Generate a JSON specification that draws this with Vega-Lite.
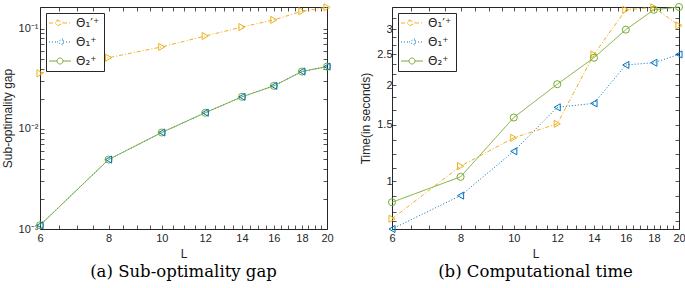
{
  "$schema": "https://vega.github.io/schema/vega-lite/v6.json",
  "padding": {"left": 0, "top": 0, "right": 4, "bottom": 2},
  "datasets": {
    "gap": [
      {"L": 6, "method": "Θ₁′⁺", "value": 0.0359},
      {"L": 8, "method": "Θ₁′⁺", "value": 0.0514},
      {"L": 10, "method": "Θ₁′⁺", "value": 0.0659},
      {"L": 12, "method": "Θ₁′⁺", "value": 0.0847},
      {"L": 14, "method": "Θ₁′⁺", "value": 0.104},
      {"L": 16, "method": "Θ₁′⁺", "value": 0.1227},
      {"L": 18, "method": "Θ₁′⁺", "value": 0.1496},
      {"L": 20, "method": "Θ₁′⁺", "value": 0.1637},
      {"L": 6, "method": "Θ₁⁺", "value": 0.00109},
      {"L": 8, "method": "Θ₁⁺", "value": 0.00494},
      {"L": 10, "method": "Θ₁⁺", "value": 0.0092},
      {"L": 12, "method": "Θ₁⁺", "value": 0.0145},
      {"L": 14, "method": "Θ₁⁺", "value": 0.0209},
      {"L": 16, "method": "Θ₁⁺", "value": 0.0269},
      {"L": 18, "method": "Θ₁⁺", "value": 0.0374},
      {"L": 20, "method": "Θ₁⁺", "value": 0.0419},
      {"L": 6, "method": "Θ₂⁺", "value": 0.00109},
      {"L": 8, "method": "Θ₂⁺", "value": 0.00494},
      {"L": 10, "method": "Θ₂⁺", "value": 0.0092},
      {"L": 12, "method": "Θ₂⁺", "value": 0.0145},
      {"L": 14, "method": "Θ₂⁺", "value": 0.0209},
      {"L": 16, "method": "Θ₂⁺", "value": 0.0269},
      {"L": 18, "method": "Θ₂⁺", "value": 0.0374},
      {"L": 20, "method": "Θ₂⁺", "value": 0.0419}
    ],
    "time": [
      {"L": 6, "method": "Θ₁′⁺", "value": 0.761},
      {"L": 8, "method": "Θ₁′⁺", "value": 1.114},
      {"L": 10, "method": "Θ₁′⁺", "value": 1.367},
      {"L": 12, "method": "Θ₁′⁺", "value": 1.512},
      {"L": 14, "method": "Θ₁′⁺", "value": 2.498},
      {"L": 16, "method": "Θ₁′⁺", "value": 3.45},
      {"L": 18, "method": "Θ₁′⁺", "value": 3.51},
      {"L": 20, "method": "Θ₁′⁺", "value": 3.08},
      {"L": 6, "method": "Θ₁⁺", "value": 0.707},
      {"L": 8, "method": "Θ₁⁺", "value": 0.9},
      {"L": 10, "method": "Θ₁⁺", "value": 1.24},
      {"L": 12, "method": "Θ₁⁺", "value": 1.704},
      {"L": 14, "method": "Θ₁⁺", "value": 1.754},
      {"L": 16, "method": "Θ₁⁺", "value": 2.315},
      {"L": 18, "method": "Θ₁⁺", "value": 2.353},
      {"L": 20, "method": "Θ₁⁺", "value": 2.498},
      {"L": 6, "method": "Θ₂⁺", "value": 0.858},
      {"L": 8, "method": "Θ₂⁺", "value": 1.031},
      {"L": 10, "method": "Θ₂⁺", "value": 1.583},
      {"L": 12, "method": "Θ₂⁺", "value": 2.014},
      {"L": 14, "method": "Θ₂⁺", "value": 2.439},
      {"L": 16, "method": "Θ₂⁺", "value": 2.988},
      {"L": 18, "method": "Θ₂⁺", "value": 3.45},
      {"L": 20, "method": "Θ₂⁺", "value": 3.52}
    ]
  },
  "spacing": 25,
  "hconcat": [
    {
      "width": 287,
      "height": 222,
      "title": {"text": "(a) Sub-optimality gap"},
      "data": {"name": "gap"},
      "layer": [
        {
          "mark": {"type": "line", "strokeWidth": 1},
          "encoding": {
            "x": {"field": "L", "type": "quantitative",
              "scale": {"type": "log", "domain": [6, 20], "nice": false},
              "axis": {"orient": "bottom", "title": "L", "labelPadding": 7, "titlePadding": 5,
                "values": [6,6.5,7,7.5,8,8.5,9,9.5,10,10.5,11,11.5,12,12.5,13,13.5,14,14.5,15,15.5,16,16.5,17,17.5,18,18.5,19,19.5,20],
                "labelExpr": "datum.value % 2 == 0 ? '' + datum.value : ''"}},
            "y": {"field": "value", "type": "quantitative",
              "scale": {"type": "log", "domain": [0.001, 0.165], "nice": false},
              "axis": {"orient": "left", "title": "Sub-optimality gap", "labelPadding": 6,
                "values": [0.001,0.002,0.003,0.004,0.005,0.006,0.007,0.008,0.009,0.01,0.02,0.03,0.04,0.05,0.06,0.07,0.08,0.09,0.1],
                "labelExpr": "datum.value == 0.1 ? '10⁻¹' : datum.value == 0.01 ? '10⁻²' : datum.value == 0.001 ? '10⁻³' : ''"}},
            "color": {"field": "method", "type": "nominal",
              "scale": {"domain": ["Θ₁′⁺", "Θ₁⁺", "Θ₂⁺"], "range": ["#EDB120", "#0072BD", "#77AC30"]},
              "legend": {
                "encode": {"symbols": {"update": {
                  "shape": {"signal": "datum.value == 'Θ₁′⁺' ? 'M-2.2,0H-0.6M0.6,0H2.2M-0.6,-0.65L0.6,0L-0.6,0.65Z' : datum.value == 'Θ₁⁺' ? 'M-2.2,0H-0.6M0.6,0H2.2M0.6,-0.65L-0.6,0L0.6,0.65Z' : 'M-2.2,0H-0.6M0.6,0H2.2M0.6,0A0.6,0.6 0 1,1 -0.6,0A0.6,0.6 0 1,1 0.6,0'"},
                  "strokeDash": {"signal": "datum.value == 'Θ₁′⁺' ? [4,2,1,2] : datum.value == 'Θ₁⁺' ? [1,2] : [1,0]"},
                  "fill": {"value": "transparent"},
                  "strokeWidth": {"value": 1}
                }}}
              }},
            "strokeDash": {"field": "method", "type": "nominal",
              "scale": {"domain": ["Θ₁′⁺", "Θ₁⁺", "Θ₂⁺"], "range": [[4,2,1,2],[1,2],[1,0]]},
              "legend": null}
          }
        },
        {
          "transform": [{"filter": "datum.method == 'Θ₁′⁺'"}],
          "mark": {"type": "point", "shape": "triangle-right", "filled": false, "size": 50, "strokeWidth": 1, "opacity": 1, "color": "#EDB120"},
          "encoding": {
            "x": {"field": "L", "type": "quantitative",
              "scale": {"type": "log", "domain": [6, 20], "nice": false},
              "axis": {"orient": "top", "title": null, "labels": false,
                "values": [6,6.5,7,7.5,8,8.5,9,9.5,10,10.5,11,11.5,12,12.5,13,13.5,14,14.5,15,15.5,16,16.5,17,17.5,18,18.5,19,19.5,20]}},
            "y": {"field": "value", "type": "quantitative",
              "scale": {"type": "log", "domain": [0.001, 0.165], "nice": false},
              "axis": {"orient": "right", "title": null, "labels": false,
                "values": [0.001,0.002,0.003,0.004,0.005,0.006,0.007,0.008,0.009,0.01,0.02,0.03,0.04,0.05,0.06,0.07,0.08,0.09,0.1]}}
          }
        },
        {
          "transform": [{"filter": "datum.method == 'Θ₂⁺'"}],
          "mark": {"type": "point", "shape": "circle", "filled": false, "size": 50, "strokeWidth": 1, "opacity": 1, "color": "#77AC30"},
          "encoding": {
            "x": {"field": "L", "type": "quantitative", "axis": null},
            "y": {"field": "value", "type": "quantitative", "axis": null}
          }
        },
        {
          "transform": [{"filter": "datum.method == 'Θ₁⁺'"}],
          "mark": {"type": "point", "shape": "triangle-left", "filled": false, "size": 50, "strokeWidth": 1, "opacity": 1, "color": "#0072BD"},
          "encoding": {
            "x": {"field": "L", "type": "quantitative", "axis": null},
            "y": {"field": "value", "type": "quantitative", "axis": null}
          }
        }
      ],
      "resolve": {"axis": {"x": "independent", "y": "independent"}}
    },
    {
      "width": 287,
      "height": 222,
      "title": {"text": "(b) Computational time"},
      "data": {"name": "time"},
      "layer": [
        {
          "mark": {"type": "line", "strokeWidth": 1},
          "encoding": {
            "x": {"field": "L", "type": "quantitative",
              "scale": {"type": "log", "domain": [6, 20], "nice": false},
              "axis": {"orient": "bottom", "title": "L", "labelPadding": 7, "titlePadding": 5,
                "values": [6,6.5,7,7.5,8,8.5,9,9.5,10,10.5,11,11.5,12,12.5,13,13.5,14,14.5,15,15.5,16,16.5,17,17.5,18,18.5,19,19.5,20],
                "labelExpr": "datum.value % 2 == 0 ? '' + datum.value : ''"}},
            "y": {"field": "value", "type": "quantitative",
              "scale": {"type": "log", "domain": [0.707, 3.52], "nice": false},
              "axis": {"orient": "left", "title": "Time(in seconds)",
                "values": [0.75,0.8,0.9,1,1.1,1.22,1.35,1.5,1.67,1.83,2,2.17,2.33,2.5,2.67,2.83,3,3.25],
                "labelExpr": "indexof([1,1.5,2,2.5,3], datum.value) >= 0 ? '' + datum.value : ''"}},
            "color": {"field": "method", "type": "nominal",
              "scale": {"domain": ["Θ₁′⁺", "Θ₁⁺", "Θ₂⁺"], "range": ["#EDB120", "#0072BD", "#77AC30"]},
              "legend": {
                "encode": {"symbols": {"update": {
                  "shape": {"signal": "datum.value == 'Θ₁′⁺' ? 'M-2.2,0H-0.6M0.6,0H2.2M-0.6,-0.65L0.6,0L-0.6,0.65Z' : datum.value == 'Θ₁⁺' ? 'M-2.2,0H-0.6M0.6,0H2.2M0.6,-0.65L-0.6,0L0.6,0.65Z' : 'M-2.2,0H-0.6M0.6,0H2.2M0.6,0A0.6,0.6 0 1,1 -0.6,0A0.6,0.6 0 1,1 0.6,0'"},
                  "strokeDash": {"signal": "datum.value == 'Θ₁′⁺' ? [4,2,1,2] : datum.value == 'Θ₁⁺' ? [1,2] : [1,0]"},
                  "fill": {"value": "transparent"},
                  "strokeWidth": {"value": 1}
                }}}
              }},
            "strokeDash": {"field": "method", "type": "nominal",
              "scale": {"domain": ["Θ₁′⁺", "Θ₁⁺", "Θ₂⁺"], "range": [[4,2,1,2],[1,2],[1,0]]},
              "legend": null}
          }
        },
        {
          "transform": [{"filter": "datum.method == 'Θ₁′⁺'"}],
          "mark": {"type": "point", "shape": "triangle-right", "filled": false, "size": 50, "strokeWidth": 1, "opacity": 1, "color": "#EDB120"},
          "encoding": {
            "x": {"field": "L", "type": "quantitative",
              "scale": {"type": "log", "domain": [6, 20], "nice": false},
              "axis": {"orient": "top", "title": null, "labels": false,
                "values": [6,6.5,7,7.5,8,8.5,9,9.5,10,10.5,11,11.5,12,12.5,13,13.5,14,14.5,15,15.5,16,16.5,17,17.5,18,18.5,19,19.5,20]}},
            "y": {"field": "value", "type": "quantitative",
              "scale": {"type": "log", "domain": [0.707, 3.52], "nice": false},
              "axis": {"orient": "right", "title": null, "labels": false,
                "values": [0.75,0.8,0.9,1,1.1,1.22,1.35,1.5,1.67,1.83,2,2.17,2.33,2.5,2.67,2.83,3,3.25]}}
          }
        },
        {
          "transform": [{"filter": "datum.method == 'Θ₁⁺'"}],
          "mark": {"type": "point", "shape": "triangle-left", "filled": false, "size": 50, "strokeWidth": 1, "opacity": 1, "color": "#0072BD"},
          "encoding": {
            "x": {"field": "L", "type": "quantitative", "axis": null},
            "y": {"field": "value", "type": "quantitative", "axis": null}
          }
        },
        {
          "transform": [{"filter": "datum.method == 'Θ₂⁺'"}],
          "mark": {"type": "point", "shape": "circle", "filled": false, "size": 50, "strokeWidth": 1, "opacity": 1, "color": "#77AC30"},
          "encoding": {
            "x": {"field": "L", "type": "quantitative", "axis": null},
            "y": {"field": "value", "type": "quantitative", "axis": null}
          }
        }
      ],
      "resolve": {"axis": {"x": "independent", "y": "independent"}}
    }
  ],
  "resolve": {
    "scale": {"color": "independent", "strokeDash": "independent"},
    "legend": {"color": "independent", "strokeDash": "independent"}
  },
  "config": {
    "view": {"stroke": "#262626", "strokeWidth": 1},
    "axis": {
      "domain": false, "grid": false,
      "tickColor": "#262626", "tickSize": -4, "tickWidth": 0.8,
      "labelColor": "#262626", "labelFont": "Liberation Sans", "labelFontSize": 11,
      "labelPadding": 4, "labelOverlap": false, "labelFlush": false,
      "titleFont": "Liberation Sans", "titleFontSize": 12, "titleFontWeight": "normal",
      "titleColor": "#262626", "titlePadding": 4
    },
    "legend": {
      "orient": "top-left", "offset": 6, "title": null,
      "fillColor": "white", "strokeColor": "#262626", "padding": 4,
      "rowPadding": 7, "symbolOffset": 4, "labelOffset": 10,
      "labelFont": "DejaVu Sans", "labelFontSize": 12, "labelColor": "#262626",
      "symbolSize": 100
    },
    "title": {
      "orient": "bottom", "anchor": "middle", "font": "DejaVu Serif",
      "fontSize": 16.5, "fontWeight": "normal", "color": "black", "offset": 5
    }
  }
}
